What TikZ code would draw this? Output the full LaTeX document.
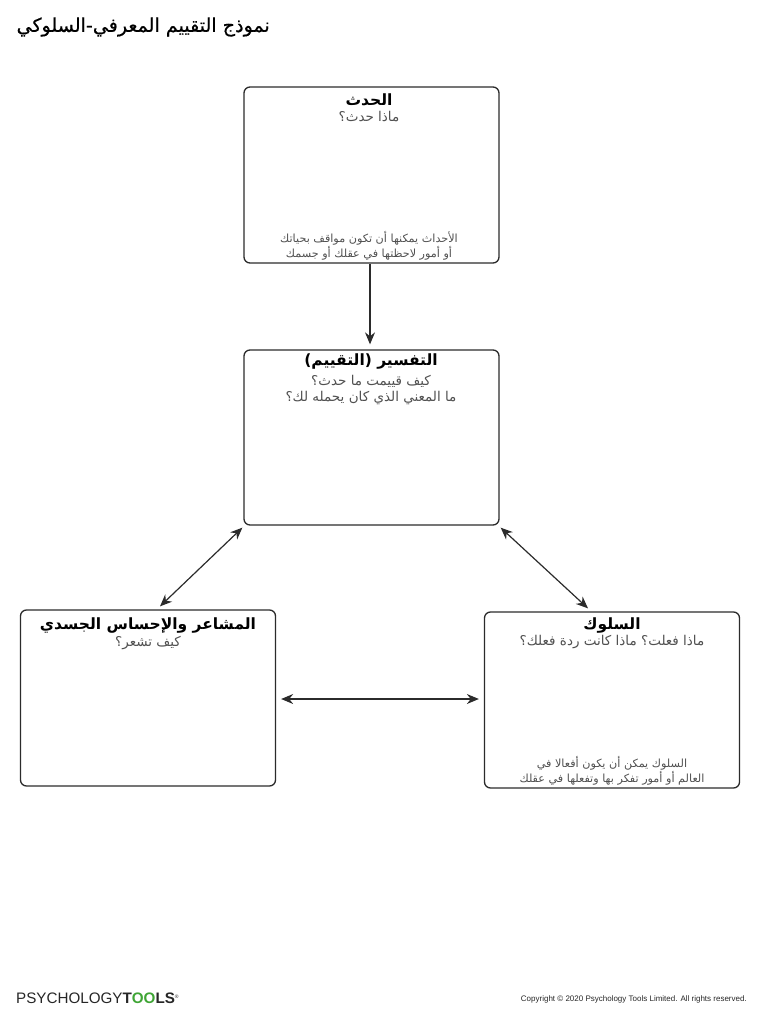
\documentclass[tikz,border=0pt]{standalone}
\usepackage{fontspec}
\TeXXeTstate=1
\newfontfamily\arabicfont[Script=Arabic]{DejaVu Sans}
\newfontfamily\arabictitlefont[Script=Arabic,FakeBold=0.6]{DejaVu Sans}
\newfontfamily\logofont{Liberation Sans}
\usetikzlibrary{arrows.meta}
\definecolor{boxline}{HTML}{2B2B2B}
\definecolor{subgray}{HTML}{505050}
\definecolor{logogreen}{HTML}{3FA535}
\tikzset{
  framebox/.style={draw=boxline, line width=1.3pt, rounded corners=6pt, minimum width=255pt, minimum height=176pt, inner sep=0pt},
  headtext/.style={font=\arabicfont\bfseries\fontsize{15.5}{18}\selectfont, text=black, inner sep=0pt},
  subtext/.style={font=\arabicfont\fontsize{13.5}{16}\selectfont, text=subgray, inner sep=0pt, align=center},
  smalltext/.style={font=\arabicfont\fontsize{11.2}{13}\selectfont, text=subgray, inner sep=0pt, align=center},
  conn/.style={draw=boxline, line width=1.2pt, -{Stealth[length=12pt,width=10pt]}},
  biconn/.style={draw=boxline, line width=1.2pt, {Stealth[length=12pt,width=10pt]}-{Stealth[length=12pt,width=10pt]}}
}
\begin{document}
\begin{tikzpicture}[x=1pt,y=-1pt]
\useasboundingbox (0,0) rectangle (768,1024);
% title
\node[anchor=east, inner sep=0pt, font=\arabictitlefont\fontsize{19.1}{22}\selectfont] (title) at (270,27) {\beginR نموذج التقييم المعرفي-السلوكي\endR};
% boxes
\node[framebox] (event) at (371.5,175) {};
\node[framebox, minimum height=175pt] (interp) at (371.5,437.5) {};
\node[framebox] (feel) at (148,698) {};
\node[framebox] (behav) at (612,700) {};
% event texts
\node[headtext] (eventh) at (369,100) {\beginR الحدث\endR};
\node[subtext] (events) at (369,117) {\beginR ماذا حدث؟\endR};
\node[smalltext] (eventb) at (369,246) {\beginR الأحداث يمكنها أن تكون مواقف بحياتك\endR\\\beginR أو أمور لاحظتها في عقلك أو جسمك\endR};
% interpretation texts
\node[headtext] (interph) at (371,362) {\beginR التفسير (التقييم)\endR};
\node[subtext] (interps) at (371,390) {\beginR كيف قييمت ما حدث؟\endR\\\beginR ما المعني الذي كان يحمله لك؟\endR};
% feelings texts
\node[headtext] (feelh) at (148,625) {\beginR المشاعر والإحساس الجسدي\endR};
\node[subtext] (feels) at (148,643) {\beginR كيف تشعر؟\endR};
% behaviour texts
\node[headtext] (behavh) at (612,625) {\beginR السلوك\endR};
\node[subtext] (behavs) at (612,642) {\beginR ماذا فعلت؟ ماذا كانت ردة فعلك؟\endR};
\node[smalltext] (behavb) at (612,771) {\beginR السلوك يمكن أن يكون أفعالا في\endR\\\beginR العالم أو أمور تفكر بها وتفعلها في عقلك\endR};
% connectors
\coordinate (e1) at ([xshift=-1.5pt]event.south);
\coordinate (e2) at ([xshift=-1.5pt,yshift=5pt]interp.north);
\draw[conn] (e1) -- (e2);
\coordinate (l1) at ([xshift=-1pt,yshift=-2pt]interp.south west);
\coordinate (l2) at ([xshift=12pt,yshift=3pt]feel.north);
\draw[biconn] (l1) -- (l2);
\coordinate (r1) at ([xshift=1pt,yshift=-2pt]interp.south east);
\coordinate (r2) at ([xshift=-24pt,yshift=3pt]behav.north);
\draw[biconn] (r1) -- (r2);
\coordinate (h1) at ([xshift=5pt]feel.east |- 0,699);
\coordinate (h2) at ([xshift=-5pt]behav.west |- 0,699);
\draw[biconn] (h1) -- (h2);
% footer
\node[anchor=west, inner sep=0pt, font=\logofont\fontsize{15.2}{17}\selectfont, text=black!85] (logo) at (16,998) {PSYCHOLOGY\textbf{T\textcolor{logogreen}{OO}LS}\raisebox{5pt}{\fontsize{5}{5}\selectfont\textregistered}};
\node[anchor=east, inner sep=0pt, font=\logofont\fontsize{8}{9}\selectfont, text=black!85] (copy) at (747,999) {Copyright © 2020 Psychology Tools Limited. All rights reserved.};
\end{tikzpicture}
\end{document}
